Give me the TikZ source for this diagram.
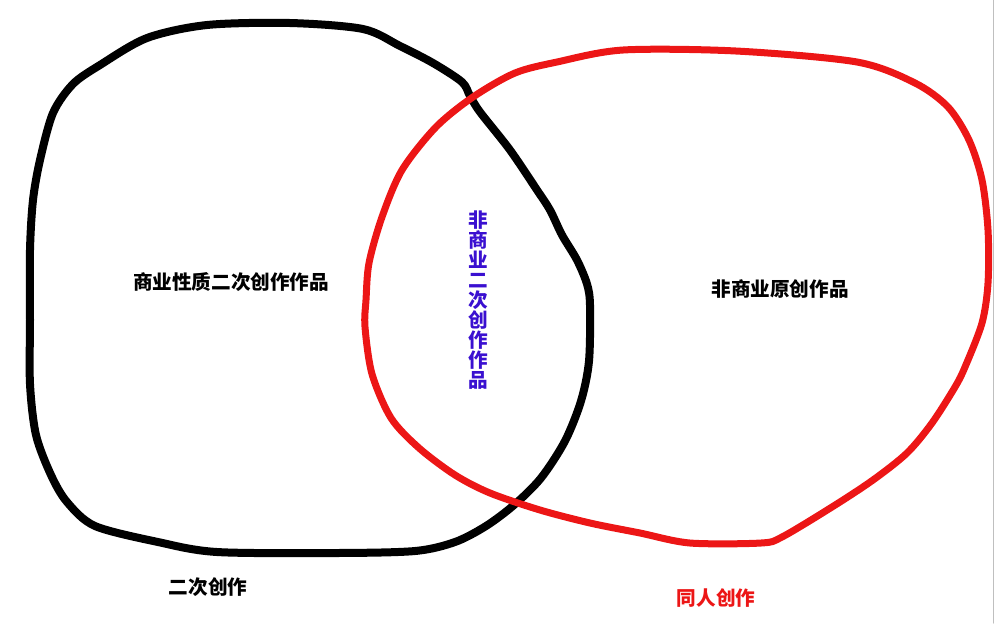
\documentclass[tikz,border=0pt]{standalone}
\usepackage{fontspec}
\newfontfamily\cjk{Noto Sans CJK SC}
\definecolor{penred}{RGB}{236,22,22}
\definecolor{penblue}{RGB}{58,16,208}
\begin{document}
\begin{tikzpicture}[x=0.5pt, y=-0.5pt, line join=round, line cap=round,
        label/.style = {font=\cjk\bfseries\fontsize{9.8}{10}\selectfont, inner sep=0pt},
        blackpen/.style = {line width=4pt, black},
        redpen/.style = {line width=3.5pt, penred}]
        \useasboundingbox (0,0) rectangle (994,623);
        \draw[black!25, line width=0.5pt] (993,0) -- (993,623);

        % two hand drawn loops
        \draw[blackpen] plot[smooth cycle, tension=0.5] coordinates {(147,38) (207,25) (290,23) (363,29) (400,46) (433,63) (462,82) (470,96) (480,112) (510,150) (537,190) (550,210) (562,235) (577,260) (587,284) (590,305) (589,361) (581,401) (565,441) (541,478) (514,505) (486,526) (455,542) (415,551) (336,553) (217,552) (158,542) (95,526) (67,502) (51,475) (36,435) (30,384) (30,320) (30,250) (33,200) (40,160) (53,113) (73,84) (100,65)};
        \draw[redpen] plot[smooth cycle, tension=0.5] coordinates {(557,62) (623,50) (736,51) (857,62) (915,83) (948,107) (969,140) (982,180) (988,230) (988,283) (982,323) (965,367) (955,387) (932,423) (907,453) (873,480) (832,507) (782,537) (761,543) (690,543) (640,533) (590,523) (540,510) (490,493) (455,475) (419,448) (391,418) (372,374) (365,327) (366,300) (369,263) (382,217) (402,170) (436,127) (473,97) (515,73)};

        \node[label] (commercial) at (231,282) {商业性质二次创作作品};
        \node[label] (original) at (780,289) {非商业原创作品};
        \node[label, text=penblue, align=center] (overlap) at (478,300) {非\\商\\业\\二\\次\\创\\作\\作\\品};
        \node[label] (derivative) at (208,587) {二次创作};
        \node[label, text=penred] (doujin) at (716,598) {同人创作};

    \end{tikzpicture}
\end{document}
